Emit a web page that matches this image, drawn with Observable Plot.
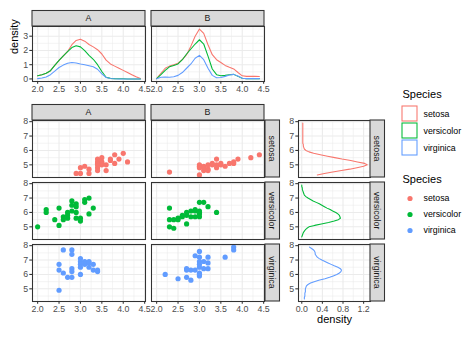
<!DOCTYPE html>
<html><head><meta charset="utf-8">
<script src="https://cdn.jsdelivr.net/npm/d3@7"></script>
<script src="https://cdn.jsdelivr.net/npm/@observablehq/plot@0.6"></script>
<style>
body{margin:0;background:#fff;font-family:"Liberation Sans",Arial,Helvetica,sans-serif;}
#wrap{position:relative;width:474px;height:338px;overflow:hidden;background:#fff;}
#wrap > svg{position:absolute;}
</style></head><body><div id="wrap"></div>
<script>
// ---------- data ----------
const species = ["setosa", "versicolor", "virginica"];
const groups = ["A", "B"];
const speciesColors = ["#F8766D", "#00BA38", "#619CFF"];

const widthTicks = [2.0, 2.5, 3.0, 3.5, 4.0, 4.5];
const widthMinor = [2.25, 2.75, 3.25, 3.75, 4.25];
const lengthTicks = [5, 6, 7, 8];
const lengthMinor = [4.5, 5.5, 6.5, 7.5];
const densTopTicks = [0, 1, 2, 3];
const densTopMinor = [0.5, 1.5, 2.5, 3.5];
const densSideTicks = [0, 0.4, 0.8, 1.2];
const densSideMinor = [0.2, 0.6, 1.0];

// scatter points: [sepal width, sepal length]
const setosaA = [[2.9,4.4],[3.0,4.4],[3.0,4.8],[3.1,4.9],[3.2,4.7],[3.2,4.4],[3.4,5.4],[3.4,5.2],[3.4,5.0],[3.4,4.8],[3.4,4.6],[3.4,5.1],[3.5,5.5],[3.5,5.2],[3.5,5.0],[3.5,5.1],[3.6,4.6],[3.6,5.0],[3.7,5.3],[3.7,5.4],[3.8,5.7],[3.8,5.1],[3.9,5.4],[4.0,5.8],[4.1,5.2]];
const setosaB = [[2.3,4.5],[3.0,4.3],[3.0,4.9],[3.0,5.0],[3.0,4.8],[3.1,4.6],[3.1,4.9],[3.1,4.8],[3.2,4.7],[3.2,5.0],[3.2,4.6],[3.3,5.1],[3.3,5.0],[3.4,5.0],[3.4,5.4],[3.5,5.1],[3.5,5.0],[3.6,4.9],[3.7,5.1],[3.8,5.1],[3.8,5.2],[3.9,5.4],[4.2,5.5],[4.4,5.7],[3.4,4.8]];
const versicolorA = [[2.0,5.0],[2.2,6.2],[2.2,6.0],[2.4,5.5],[2.5,6.3],[2.5,5.1],[2.6,5.7],[2.6,5.5],[2.7,5.8],[2.7,5.6],[2.7,6.0],[2.8,6.8],[2.8,6.5],[2.8,6.1],[2.9,6.6],[2.9,6.4],[2.9,6.0],[2.9,5.6],[3.0,5.4],[3.0,5.6],[3.1,6.9],[3.1,6.7],[3.2,7.0],[3.2,5.9],[3.3,6.3]];
const versicolorB = [[2.3,6.3],[2.3,5.5],[2.3,5.0],[2.4,4.9],[2.4,5.5],[2.5,5.5],[2.5,5.6],[2.6,5.7],[2.6,5.8],[2.7,5.2],[2.7,5.8],[2.7,6.0],[2.8,6.1],[2.8,5.7],[2.9,6.1],[2.9,6.2],[2.9,5.7],[3.0,6.7],[3.1,6.7],[3.0,6.0],[3.0,5.9],[3.0,6.1],[3.0,5.7],[3.2,6.4],[3.4,6.0]];
const virginicaA = [[2.6,7.7],[2.8,7.7],[2.8,7.4],[2.5,6.7],[2.5,6.3],[2.6,6.1],[2.5,4.9],[2.7,5.8],[2.8,5.8],[2.8,6.4],[2.8,6.2],[3.0,7.1],[3.0,6.9],[3.0,6.7],[3.0,6.0],[3.0,6.5],[3.1,6.7],[3.1,6.9],[3.2,6.9],[3.2,6.5],[3.3,6.7],[3.3,6.3],[3.4,6.3],[3.4,6.2],[3.2,6.8]];
const virginicaB = [[2.2,6.0],[2.5,5.7],[2.7,6.3],[2.8,6.3],[2.9,6.3],[2.7,5.8],[2.8,5.6],[2.7,6.4],[2.9,7.3],[3.0,7.6],[3.0,7.2],[3.0,6.9],[3.0,6.7],[3.0,6.5],[3.0,6.1],[3.0,5.9],[3.0,6.0],[3.1,6.9],[3.1,6.4],[3.2,7.2],[3.2,6.8],[3.2,6.4],[3.6,7.2],[3.8,7.9],[3.8,7.7]];

// top density curves (as drawn), sampled at widthGrid
const widthGrid = [2.0,2.1,2.2,2.3,2.4,2.5,2.6,2.7,2.8,2.9,3.0,3.1,3.2,3.3,3.4,3.5,3.6,3.7,3.8,3.9,4.0,4.1,4.2,4.3,4.4];
const topA_setosa     = [0.22,0.30,0.40,0.58,0.95,1.30,1.62,1.93,2.40,2.70,2.78,2.65,2.42,2.25,2.05,1.75,1.32,1.05,0.90,0.75,0.60,0.45,0.30,0.15,0.03];
const topA_versicolor = [0.22,0.30,0.40,0.58,0.95,1.30,1.62,1.92,2.20,2.33,2.25,1.98,1.66,1.38,1.00,0.52,0.12,0.04,0.02,0.01,0.01,0.00,0.00,0.00,0.00];
const topA_virginica  = [0.02,0.07,0.14,0.30,0.55,0.80,0.97,1.10,1.15,1.12,1.05,1.00,0.93,0.86,0.68,0.35,0.10,0.03,0.01,0.00,0.00,0.00,0.00,0.00,0.00];
const topB_setosa     = [0.02,0.40,0.75,0.90,1.00,1.10,1.35,1.70,2.30,3.00,3.50,3.20,2.40,1.70,1.35,1.15,0.95,0.82,0.70,0.45,0.22,0.18,0.18,0.18,0.17];
const topB_versicolor = [0.02,0.30,0.60,0.85,0.95,1.05,1.35,1.75,2.10,2.45,2.75,2.45,1.60,0.70,0.30,0.22,0.25,0.30,0.32,0.18,0.05,0.02,0.02,0.02,0.02];
const topB_virginica  = [0.01,0.12,0.14,0.12,0.15,0.25,0.45,0.75,1.05,1.45,1.65,1.35,0.75,0.25,0.08,0.10,0.18,0.28,0.32,0.20,0.05,0.02,0.02,0.02,0.02];

// side density curves, sampled at lengthGrid
const lengthGrid = [4.3,4.4,4.5,4.6,4.7,4.8,4.9,5.0,5.1,5.2,5.3,5.4,5.5,5.6,5.7,5.8,5.9,6.0,6.1,6.2,6.3,6.4,6.5,6.6,6.7,6.8,6.9,7.0,7.1,7.2,7.3,7.4,7.5,7.6,7.7,7.8,7.9];
const side_setosa     = [0.30,0.44,0.60,0.77,0.93,1.07,1.20,1.27,1.22,1.08,0.95,0.78,0.64,0.50,0.36,0.23,0.14,0.08,0.05,0.04,0.03,0.03,0.02,0.02,0.02,0.02,0.02,0.02,0.02,0.02,0.02,0.02,0.02,0.02,0.02,0.02,0.02];
const side_versicolor = [0.00,0.01,0.02,0.03,0.05,0.07,0.10,0.14,0.25,0.38,0.52,0.63,0.71,0.75,0.74,0.73,0.70,0.66,0.60,0.55,0.49,0.44,0.39,0.34,0.28,0.22,0.17,0.12,0.08,0.05,0.04,0.03,0.02,0.01,0.01,0.00,0.00];
const side_virginica  = [0.05,0.05,0.06,0.06,0.06,0.07,0.07,0.07,0.08,0.09,0.12,0.17,0.24,0.33,0.45,0.54,0.61,0.68,0.73,0.76,0.77,0.75,0.70,0.63,0.57,0.51,0.45,0.39,0.34,0.30,0.28,0.26,0.26,0.25,0.23,0.19,0.15];

// ---------- tables ----------
const scatterSets = [["setosa","A",setosaA],["setosa","B",setosaB],["versicolor","A",versicolorA],["versicolor","B",versicolorB],["virginica","A",virginicaA],["virginica","B",virginicaB]];
const scatter = [];
scatterSets.forEach(([s,g,arr]) => arr.forEach(([w,l]) => scatter.push({species:s, group:g, w, l})));

const topSets = [["A","setosa",topA_setosa],["A","versicolor",topA_versicolor],["A","virginica",topA_virginica],["B","setosa",topB_setosa],["B","versicolor",topB_versicolor],["B","virginica",topB_virginica]];
const topData = [];
topSets.forEach(([g,s,arr]) => arr.forEach((d,i) => topData.push({group:g, species:s, w:widthGrid[i], d})));

const sideSets = [["setosa",side_setosa],["versicolor",side_versicolor],["virginica",side_virginica]];
const sideData = [];
sideSets.forEach(([s,arr]) => arr.forEach((d,i) => sideData.push({species:s, l:lengthGrid[i], d})));

// ---------- styling ----------
const W = 474, H = 338;
const FONT = "'Liberation Sans', Arial, Helvetica, sans-serif";
const baseStyle = {background:"transparent", overflow:"visible", fontFamily:FONT, fontSize:"8.8px"};
const major = {stroke:"#EBEBEB", strokeOpacity:1, strokeWidth:1.07};
const minor = {stroke:"#EBEBEB", strokeOpacity:1, strokeWidth:0.53};
const axisStyle = {tickSize:2.7, tickPadding:1.6, color:"#4D4D4D", stroke:"#333333", strokeWidth:1.07, label:null, fontSize:8.8};
const colorScale = {domain:species, range:speciesColors};
const fxOpt = {domain:groups, paddingInner:0.05, paddingOuter:0, axis:null, label:null};
const fyOpt = {domain:species, paddingInner:0.08, paddingOuter:0, axis:null, label:null};
const frame = () => Plot.frame({stroke:"#333333", strokeWidth:1.07});

// top densities
const p1 = Plot.plot({
  width:W, height:H, style:baseStyle,
  marginLeft:32, marginRight:W-265, marginTop:26, marginBottom:H-81,
  fx:fxOpt, x:{domain:[1.88,4.52]}, y:{domain:[-0.18,3.68]}, color:colorScale,
  marks:[
    Plot.gridX({ticks:widthMinor, ...minor}),
    Plot.gridX({ticks:widthTicks, ...major}),
    Plot.gridY({ticks:densTopMinor, ...minor}),
    Plot.gridY({ticks:densTopTicks, ...major}),
    Plot.line(topData, {fx:"group", x:"w", y:"d", z:"species", stroke:"species", strokeWidth:1.07}),
    frame(),
    Plot.axisX({ticks:widthTicks, tickFormat:".1f", ...axisStyle}),
    Plot.axisY({ticks:densTopTicks, tickFormat:"d", ...axisStyle}),
    Plot.text(["density"], {fx:() => "A", frameAnchor:"left", dx:-18, rotate:-90, fontSize:11, fill:"#000"})
  ]
});

// scatter
const p2 = Plot.plot({
  width:W, height:H, style:baseStyle,
  marginLeft:32, marginRight:W-265, marginTop:120, marginBottom:H-302,
  fx:fxOpt, fy:fyOpt, x:{domain:[1.88,4.52]}, y:{domain:[4.12,8.08]}, color:colorScale,
  marks:[
    Plot.gridX({ticks:widthMinor, ...minor}),
    Plot.gridX({ticks:widthTicks, ...major}),
    Plot.gridY({ticks:lengthMinor, ...minor}),
    Plot.gridY({ticks:lengthTicks, ...major}),
    Plot.dot(scatter, {fx:"group", fy:"species", x:"w", y:"l", fill:"species", r:2.6}),
    frame(),
    Plot.axisX({ticks:widthTicks, tickFormat:".1f", ...axisStyle}),
    Plot.axisY({ticks:lengthTicks, tickFormat:"d", ...axisStyle})
  ]
});

// side densities
const p3 = Plot.plot({
  width:W, height:H, style:baseStyle,
  marginLeft:298, marginRight:W-370, marginTop:120, marginBottom:H-302,
  fy:fyOpt, x:{domain:[-0.0635,1.3335]}, y:{domain:[4.12,8.08]}, color:colorScale,
  marks:[
    Plot.gridX({ticks:densSideMinor, ...minor}),
    Plot.gridX({ticks:densSideTicks, ...major}),
    Plot.gridY({ticks:lengthMinor, ...minor}),
    Plot.gridY({ticks:lengthTicks, ...major}),
    Plot.line(sideData, {fy:"species", x:"d", y:"l", z:"species", stroke:"species", strokeWidth:1.07}),
    frame(),
    Plot.axisX({ticks:densSideTicks, tickFormat:".1f", ...axisStyle}),
    Plot.axisY({ticks:lengthTicks, tickFormat:"d", ...axisStyle}),
    Plot.text(["density"], {fy:() => "virginica", frameAnchor:"bottom", dy:21, fontSize:11, fill:"#000"})
  ]
});

// ---------- strips (positioned from the plots' facet scales) ----------
function topStrips(chart, labels, h, top) {
  const fx = chart.scale("fx"), g = d3.select(chart).append("g");
  labels.forEach(l => {
    const x0 = fx.apply(l), w = fx.bandwidth;
    g.append("rect").attr("x", x0).attr("y", top - h).attr("width", w).attr("height", h)
      .attr("fill", "#D9D9D9").attr("stroke", "#333333").attr("stroke-width", 1.07);
    g.append("text").attr("x", x0 + w/2).attr("y", top - h/2).attr("text-anchor", "middle")
      .attr("dy", "0.35em").attr("fill", "#1A1A1A").attr("font-size", 8.8).text(l);
  });
}
function rightStrips(chart, labels, w, right) {
  const fy = chart.scale("fy"), g = d3.select(chart).append("g");
  labels.forEach(l => {
    const y0 = fy.apply(l), h = fy.bandwidth;
    g.append("rect").attr("x", right).attr("y", y0).attr("width", w).attr("height", h)
      .attr("fill", "#D9D9D9").attr("stroke", "#333333").attr("stroke-width", 1.07);
    g.append("text").attr("transform", `translate(${right + w/2},${y0 + h/2}) rotate(90)`)
      .attr("text-anchor", "middle").attr("dy", "0.35em").attr("fill", "#1A1A1A").attr("font-size", 8.8).text(l);
  });
}
topStrips(p1, groups, 15.5, 26);
topStrips(p2, groups, 15.5, 120);
rightStrips(p2, species, 14.5, W - (W-265));
rightStrips(p3, species, 14.5, W - (W-370));

// ---------- legends ----------
const lg1 = Plot.plot({
  width:72, height:70, margin:0, style:{...baseStyle, overflow:"visible"},
  x:{type:"band", domain:["key"], range:[1,16], padding:0, axis:null},
  y:{type:"band", domain:species, range:[18,68], paddingInner:0.1, paddingOuter:0, axis:null},
  color:colorScale,
  marks:[
    Plot.cell(species, {x:() => "key", y:d => d, stroke:d => d, fill:"white", strokeWidth:1.07}),
    Plot.text(species, {x:() => "key", y:d => d, text:d => d, dx:13.5, textAnchor:"start", fill:"#000", fontSize:8.8}),
    Plot.text(["Species"], {frameAnchor:"top-left", lineAnchor:"top", dx:1, dy:2, fontSize:11, fill:"#000"})
  ]
});
const lg2 = Plot.plot({
  width:72, height:70, margin:0, style:{...baseStyle, overflow:"visible"},
  x:{type:"band", domain:["key"], range:[1,16], padding:0, axis:null},
  y:{type:"point", domain:species, range:[26,58], padding:0, axis:null},
  color:colorScale,
  marks:[
    Plot.dot(species, {x:() => "key", y:d => d, fill:d => d, r:2.6}),
    Plot.text(species, {x:() => "key", y:d => d, text:d => d, dx:13.5, textAnchor:"start", fill:"#000", fontSize:8.8}),
    Plot.text(["Species"], {frameAnchor:"top-left", lineAnchor:"top", dx:1, dy:2.5, fontSize:11, fill:"#000"})
  ]
});

const wrap = document.getElementById("wrap");
[[p1,0,0],[p2,0,0],[p3,0,0],[lg1,401,88],[lg2,401,172]].forEach(([el,x,y]) => {
  el.style.left = x + "px"; el.style.top = y + "px"; el.style.position = "absolute";
  wrap.appendChild(el);
});
</script></body></html>
